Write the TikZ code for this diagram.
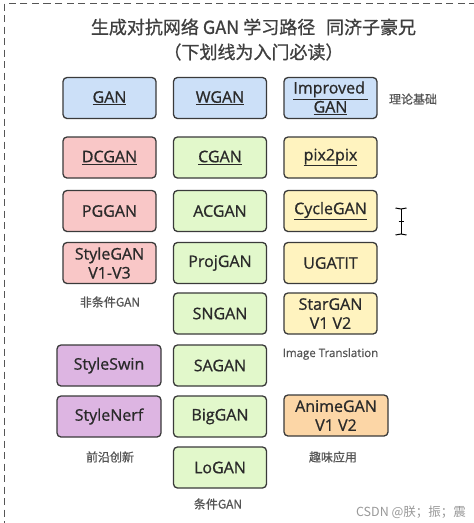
\documentclass[tikz,border=0pt]{standalone}
\usepackage{fontspec}
\setmainfont{Open Sans}
\newfontfamily\boxfont{Open Sans}[FakeBold=0.9]
\newfontfamily\cjk{Noto Sans CJK SC}
\newfontfamily\cjkb{Noto Sans CJK SC}[FakeBold=0.8]
\newfontfamily\lblfont{Open Sans}[FakeBold=0.6]
\definecolor{cblue}{HTML}{CCE0F8}
\definecolor{cred}{HTML}{F9C7C7}
\definecolor{cgreen}{HTML}{E2F8CB}
\definecolor{cyellow}{HTML}{FFF3BF}
\definecolor{cpurple}{HTML}{DDB5E2}
\definecolor{corange}{HTML}{FCD6A6}
\definecolor{cborder}{HTML}{3A3A3A}
\definecolor{ctext}{HTML}{2A2A2A}
\definecolor{clabel}{HTML}{555555}
\tikzset{
  gbox/.style={draw=cborder, line width=1.3pt, rounded corners=4pt, minimum height=41pt,
    align=center, inner sep=1pt, text=ctext, font=\boxfont\fontsize{16}{19}\selectfont},
  w1/.style={minimum width=93pt},
  w2/.style={minimum width=104pt},
  lbl/.style={text=clabel, font=\cjkb\fontsize{12}{14}\selectfont},
  ttl/.style={text=ctext!90, font=\cjkb\fontsize{18}{22}\selectfont},
}
\begin{document}
\begin{tikzpicture}[x=1pt,y=-1pt]
\useasboundingbox (0,0) rectangle (474,523);
\fill[white] (0,0) rectangle (474,523);
% dashed frame
\coordinate (tl) at (4.5,3.5);
\coordinate (tr) at (476,3.5);
\coordinate (bl) at (4.5,525);
\draw[color=clabel, line width=1.4pt, dash pattern=on 7pt off 4.5pt] (tr) -- (tl) -- (bl);
% title
\node[ttl] (t1) at (253.5,27) {生成对抗网络 GAN 学习路径\hspace{0.6em}同济子豪兄};
\node[ttl] (t2) at (253.5,52) {（下划线为入门必读）};
% row 1
\node[gbox,w1,fill=cblue] (gan) at (109.5,98) {\underline{GAN}};
\node[gbox,w1,fill=cblue] (wgan) at (220,98) {\underline{WGAN}};
\node[gbox,w1,fill=cblue] (igan) at (330.5,98) {\underline{Improved\,}\\\underline{GAN}};
\node[lbl] (l1) at (413,99) {理论基础};
% row 2
\node[gbox,w1,fill=cred] (dcgan) at (109.5,157.5) {\underline{DCGAN}};
\node[gbox,w1,fill=cgreen] (cgan) at (220,157.5) {\underline{CGAN}};
\node[gbox,w1,fill=cyellow] (p2p) at (330.5,157.5) {\underline{pix2pix}};
% row 3
\node[gbox,w1,fill=cred] (pggan) at (109.5,211) {PGGAN};
\node[gbox,w1,fill=cgreen] (acgan) at (220,211) {ACGAN};
\node[gbox,w1,fill=cyellow] (cycle) at (330.5,211) {\underline{CycleGAN}};
% row 4
\node[gbox,w1,fill=cred] (style) at (109.5,263) {StyleGAN\\V1-V3};
\node[gbox,w1,fill=cgreen] (proj) at (220,263) {ProjGAN};
\node[gbox,w1,fill=cyellow] (ugat) at (330.5,263) {UGATIT};
\node[lbl] (l2) at (110,302) {非条件GAN};
% row 5
\node[gbox,w1,fill=cgreen] (sn) at (220,313.5) {SNGAN};
\node[gbox,w1,fill=cyellow] (star) at (330.5,313.5) {StarGAN\\V1 V2};
\node[lbl,font=\lblfont\fontsize{11.5}{14}\selectfont] (l3) at (330.5,354) {Image Translation};
% row 6
\node[gbox,w2,fill=cpurple] (swin) at (109,365.5) {StyleSwin};
\node[gbox,w1,fill=cgreen] (sa) at (220,365.5) {SAGAN};
% row 7
\node[gbox,w2,fill=cpurple] (nerf) at (109,416.5) {StyleNerf};
\node[gbox,w1,fill=cgreen] (big) at (220,416.5) {BigGAN};
\node[gbox,w2,fill=corange] (anime) at (336,415.5) {AnimeGAN\\V1 V2};
\node[lbl] (l4) at (110,457) {前沿创新};
\node[lbl] (l5) at (333,457) {趣味应用};
% row 8
\node[gbox,w1,fill=cgreen] (lo) at (220,467.5) {LoGAN};
\node[lbl] (l6) at (218,504) {条件GAN};
% watermark
\node[text=black!40, font=\cjk\fontsize{12.5}{14}\selectfont] (wm) at (411,512) {CSDN @朕；振；震};
% I-beam cursor
\coordinate (cu) at (401,209);
\coordinate (cd) at (401,234);
\draw[line width=1pt] (cu) -- (cd);
\draw[line width=1pt] (395.5,208) .. controls (399,208) .. (cu) .. controls (403,208) .. (406.5,208);
\draw[line width=1pt] (395.5,235) .. controls (399,235) .. (cd) .. controls (403,235) .. (406.5,235);
\draw[line width=0.8pt] (398.5,221.5) -- (403.5,221.5);
\end{tikzpicture}
\end{document}
